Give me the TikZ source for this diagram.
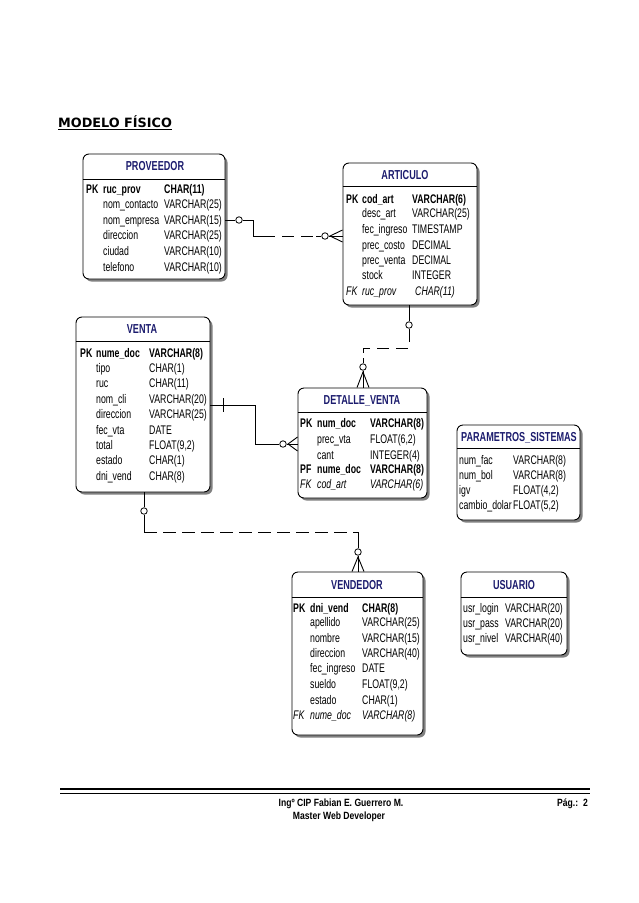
\documentclass[tikz,border=0pt]{standalone}
\usepackage{fontspec}
\setmainfont{Liberation Sans}[FakeStretch=0.7]
\newfontfamily\titlefont{DejaVu Sans}
\newfontfamily\footfont{Liberation Sans}[FakeStretch=0.82]
\usetikzlibrary{shadows,calc}
\definecolor{hdr}{RGB}{28,28,110}
\newcommand\ent[7]{\node[#1] (#2n) at (#3,#4) {#6}; \node[#1] (#2t) at (#5,#4) {#7};}
\begin{document}
\begin{tikzpicture}[x=1pt,y=-1pt,
  tbl/.style={draw=black, line width=0.9pt, rounded corners=6pt, fill=white, inner sep=0pt,
    drop shadow={shadow xshift=2.5pt, shadow yshift=-2.5pt, fill=black!50, opacity=1}},
  rown/.style={font=\fontsize{12.5}{14}\selectfont, anchor=base west, inner sep=0pt, yshift=-4.5pt},
  rowb/.style={rown, font=\fontsize{12.5}{14}\selectfont\bfseries},
  rowi/.style={rown, font=\fontsize{12.5}{14}\selectfont\itshape},
  hdrtxt/.style={font=\fontsize{13}{15}\selectfont\bfseries, text=hdr, inner sep=0pt, anchor=base, yshift=-4.7pt},
  sepl/.style={line width=0.8pt},
  conn/.style={line width=0.9pt},
  dsh/.style={conn, dash pattern=on 12pt off 7pt},
  opt/.style={circle, draw, line width=0.8pt, fill=white, minimum size=6.5pt, inner sep=0pt},
  foot/.style={font=\footfont\fontsize{10.5}{12}\selectfont\bfseries, inner sep=0pt, anchor=base, yshift=-3.8pt}
]
\useasboundingbox[fill=white] (0,0) rectangle (638,903);

% title
\node[anchor=base west, font=\titlefont\bfseries\fontsize{12.8}{14}\selectfont, inner sep=0pt] (title) at (58,127) {MODELO FÍSICO};
\draw[line width=1.1pt] ($(title.base west)+(0,2.8)$) -- ($(title.base east)+(0,2.8)$);

% boxes
\node[tbl, minimum width=142pt, minimum height=125pt] (prov) at (154,216.5) {};
\node[tbl, minimum width=134pt, minimum height=142pt] (art) at (410,234) {};
\node[tbl, minimum width=134pt, minimum height=175pt] (venta) at (143,404.5) {};
\node[tbl, minimum width=129pt, minimum height=110pt] (det) at (362.5,443) {};
\node[tbl, minimum width=123pt, minimum height=95pt] (param) at (518.5,472.5) {};
\node[tbl, minimum width=131pt, minimum height=163pt] (vend) at (357.5,653.5) {};
\node[tbl, minimum width=106pt, minimum height=83pt] (usu) at (514,613.5) {};

% header separators
\coordinate (s1) at (0,179); \draw[sepl] (prov.west |- s1) -- (prov.east |- s1);
\coordinate (s2) at (0,186); \draw[sepl] (art.west |- s2) -- (art.east |- s2);
\coordinate (s3) at (0,341); \draw[sepl] (venta.west |- s3) -- (venta.east |- s3);
\coordinate (s4) at (0,412); \draw[sepl] (det.west |- s4) -- (det.east |- s4);
\coordinate (s5) at (0,448); \draw[sepl] (param.west |- s5) -- (param.east |- s5);
\coordinate (s6) at (0,597); \draw[sepl] (vend.west |- s6) -- (vend.east |- s6);
\coordinate (s7) at (0,597); \draw[sepl] (usu.west |- s7) -- (usu.east |- s7);

% headers
\node[hdrtxt] (hprov) at (155,166) {PROVEEDOR};
\node[hdrtxt] (hart) at (405,175) {ARTICULO};
\node[hdrtxt] (hventa) at (142,329) {VENTA};
\node[hdrtxt] (hdet) at (362,400) {DETALLE\_VENTA};
\node[hdrtxt] (hparam) at (519,437) {PARAMETROS\_SISTEMAS};
\node[hdrtxt] (hvend) at (357,585) {VENDEDOR};
\node[hdrtxt] (husu) at (514,585) {USUARIO};

% PROVEEDOR
\node[rowb] (pvk) at (86,189) {PK};
\ent{rowb}{pv1}{103}{189}{164}{ruc\_prov}{CHAR(11)}
\ent{rown}{pv2}{103}{204}{164}{nom\_contacto}{VARCHAR(25)}
\ent{rown}{pv3}{103}{220}{164}{nom\_empresa}{VARCHAR(15)}
\ent{rown}{pv4}{103}{235}{164}{direccion}{VARCHAR(25)}
\ent{rown}{pv5}{103}{251}{164}{ciudad}{VARCHAR(10)}
\ent{rown}{pv6}{103}{267}{164}{telefono}{VARCHAR(10)}

% ARTICULO
\node[rowb] (ark) at (346,199) {PK};
\ent{rowb}{ar1}{362}{199}{412}{cod\_art}{VARCHAR(6)}
\ent{rown}{ar2}{362}{213}{412}{desc\_art}{VARCHAR(25)}
\ent{rown}{ar3}{362}{229}{412}{fec\_ingreso}{TIMESTAMP}
\ent{rown}{ar4}{362}{245}{412}{prec\_costo}{DECIMAL}
\ent{rown}{ar5}{362}{260}{412}{prec\_venta}{DECIMAL}
\ent{rown}{ar6}{362}{275}{412}{stock}{INTEGER}
\node[rowi] (arf) at (346,291) {FK};
\ent{rowi}{ar7}{362}{291}{415}{ruc\_prov}{CHAR(11)}

% VENTA
\node[rowb] (vek) at (80,353) {PK};
\ent{rowb}{ve1}{96}{353}{149}{nume\_doc}{VARCHAR(8)}
\ent{rown}{ve2}{96}{368}{149}{tipo}{CHAR(1)}
\ent{rown}{ve3}{96}{383}{149}{ruc}{CHAR(11)}
\ent{rown}{ve4}{96}{399}{149}{nom\_cli}{VARCHAR(20)}
\ent{rown}{ve5}{96}{414}{149}{direccion}{VARCHAR(25)}
\ent{rown}{ve6}{96}{430}{149}{fec\_vta}{DATE}
\ent{rown}{ve7}{96}{445}{149}{total}{FLOAT(9,2)}
\ent{rown}{ve8}{96}{460}{149}{estado}{CHAR(1)}
\ent{rown}{ve9}{96}{476}{149}{dni\_vend}{CHAR(8)}

% DETALLE_VENTA
\node[rowb] (dek) at (300,423) {PK};
\ent{rowb}{de1}{317}{423}{370}{num\_doc}{VARCHAR(8)}
\ent{rown}{de2}{317}{439}{370}{prec\_vta}{FLOAT(6,2)}
\ent{rown}{de3}{317}{455}{370}{cant}{INTEGER(4)}
\node[rowb] (dep) at (300,469) {PF};
\ent{rowb}{de4}{317}{469}{370}{nume\_doc}{VARCHAR(8)}
\node[rowi] (def) at (300,484) {FK};
\ent{rowi}{de5}{317}{484}{370}{cod\_art}{VARCHAR(6)}

% PARAMETROS_SISTEMAS
\ent{rown}{pa1}{459}{460}{513}{num\_fac}{VARCHAR(8)}
\ent{rown}{pa2}{459}{475}{513}{num\_bol}{VARCHAR(8)}
\ent{rown}{pa3}{459}{490}{513}{igv}{FLOAT(4,2)}
\ent{rown}{pa4}{459}{505}{513}{cambio\_dolar}{FLOAT(5,2)}

% VENDEDOR
\node[rowb] (vdk) at (293,608) {PK};
\ent{rowb}{vd1}{310}{608}{362}{dni\_vend}{CHAR(8)}
\ent{rown}{vd2}{310}{622}{362}{apellido}{VARCHAR(25)}
\ent{rown}{vd3}{310}{638}{362}{nombre}{VARCHAR(15)}
\ent{rown}{vd4}{310}{653}{362}{direccion}{VARCHAR(40)}
\ent{rown}{vd5}{310}{668}{362}{fec\_ingreso}{DATE}
\ent{rown}{vd6}{310}{684}{362}{sueldo}{FLOAT(9,2)}
\ent{rown}{vd7}{310}{700}{362}{estado}{CHAR(1)}
\node[rowi] (vdf) at (293,715) {FK};
\ent{rowi}{vd8}{310}{715}{362}{nume\_doc}{VARCHAR(8)}

% USUARIO
\ent{rown}{us1}{463}{608}{505}{usr\_login}{VARCHAR(20)}
\ent{rown}{us2}{463}{623}{505}{usr\_pass}{VARCHAR(20)}
\ent{rown}{us3}{463}{638}{505}{usr\_nivel}{VARCHAR(40)}

% ---- connector PROVEEDOR - ARTICULO
\node[opt] (o1) at (239,220) {};
\node[opt] (o2) at (325,236) {};
\coordinate (k1) at (253,220);
\coordinate (k2) at (253,236);
\coordinate (d1) at (263,236);
\coordinate (d2) at (316,236);
\draw[conn] (prov.east |- o1) -- (o1) -- (k1) -- (k2) -- (d1);
\draw[dsh] (d1) -- (d2);
\draw[conn] (d2) -- (o2) -- (art.west |- o2);
\draw[conn] ($(art.west|-o2)+(0,-6)$) -- ($(o2)+(5,0)$) -- ($(art.west|-o2)+(0,6)$);

% ---- connector ARTICULO - DETALLE_VENTA
\node[opt] (o3) at (409,325) {};
\node[opt] (o4) at (363,367) {};
\coordinate (k3) at (409,334);
\coordinate (k4) at (409,348);
\coordinate (k5) at (363,348);
\coordinate (k6) at (363,358);
\draw[conn] (art.south -| o3) -- (o3) -- (k3);
\draw[dsh, dash phase=4pt] (k3) -- (k4) -- (k5) -- (k6);
\draw[conn] (k6) -- (o4) -- (det.north -| o4);
\draw[conn] ($(det.north -| o4)+(-6,0)$) -- ($(o4)+(0,5)$) -- ($(det.north -| o4)+(6,0)$);

% ---- connector VENTA - DETALLE_VENTA
\node[opt] (o5) at (283,444) {};
\coordinate (k7) at (255,405);
\coordinate (k8) at (255,444);
\draw[conn] (venta.east |- k7) -- (k7) -- (k8) -- (o5) -- (det.west |- o5);
\draw[conn] ($(venta.east |- k7)+(13,-7)$) -- ($(venta.east |- k7)+(13,7)$);
\draw[conn] ($(det.west|-o5)+(0,-7)$) -- ($(o5)+(5,0)$) -- ($(det.west|-o5)+(0,7)$);

% ---- connector VENTA - VENDEDOR
\node[opt] (o6) at (144,511) {};
\node[opt] (o7) at (358,552) {};
\coordinate (k9) at (144,532);
\coordinate (k10) at (358,532);
\draw[conn] (venta.south -| o6) -- (o6) -- (k9);
\draw[conn, dash pattern=on 13pt off 6pt] (k9) -- (k10);
\draw[conn] (k10) -- (o7) -- (vend.north -| o7);
\draw[conn] ($(vend.north -| o7)+(-6,0)$) -- ($(o7)+(0,5)$) -- ($(vend.north -| o7)+(6,0)$);

% footer
\coordinate (fl1) at (60,789); \coordinate (fr1) at (590,789);
\coordinate (fl2) at (60,793.5); \coordinate (fr2) at (590,793.5);
\draw[line width=2.6pt] (fl1) -- (fr1);
\draw[line width=0.8pt] (fl2) -- (fr2);
\node[foot] (f1) at (341,803) {Ingº CIP Fabian E. Guerrero M.};
\node[foot] (f2) at (339,816) {Master Web Developer};
\node[foot, anchor=base east] (f3) at (588,803) {Pág.:\ \ 2};
\end{tikzpicture}
\end{document}
